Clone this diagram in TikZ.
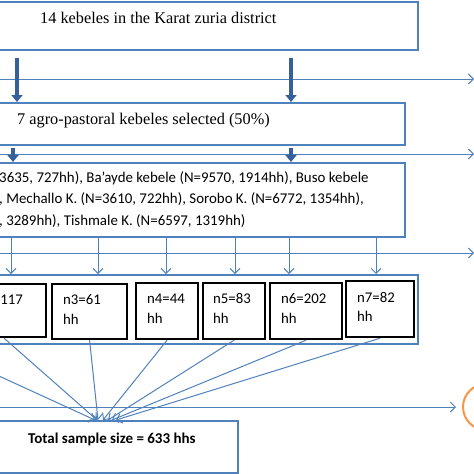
\documentclass[tikz,border=0pt]{standalone}
\usepackage{fontspec}
\setmainfont{Liberation Serif}
\newfontfamily\calfont{Carlito}
\usetikzlibrary{arrows.meta}
\definecolor{bb}{HTML}{4F81BD}
\definecolor{db}{HTML}{35609A}
\definecolor{og}{HTML}{F79646}
\begin{document}
\begin{tikzpicture}[x=1pt,y=-1pt,
  box/.style={draw=bb, line width=2.2pt, rectangle, inner sep=0pt, anchor=north west},
  ibox/.style={draw=black, line width=2.2pt, rectangle, inner sep=0pt, anchor=north west},
  bigarrow/.style={draw=db, line width=4.5pt, -{Triangle[width=11pt,length=7pt]}},
  thinarrow/.style={draw=bb, line width=1pt, -{Straight Barb[length=5pt,width=10pt]}},
  serif/.style={anchor=base west, inner sep=0pt, font=\fontsize{16.3}{19}\selectfont},
  sans/.style={anchor=base west, inner sep=0pt, font=\calfont\fontsize{14.9}{18}\selectfont},
  itext/.style={anchor=base west, inner sep=0pt, font=\calfont\fontsize{14.8}{17}\selectfont}]
\useasboundingbox (0,0) rectangle (474,474);
% boxes
\node[box, minimum width=427pt, minimum height=48pt] (b1) at (-10,1) {};
\node[box, minimum width=414pt, minimum height=42pt] (b2) at (-10,102) {};
\node[box, minimum width=414pt, minimum height=74pt] (b3) at (-10,162) {};
\node[box, minimum width=427pt, minimum height=69pt] (b0) at (-10,274) {};
\node[box, minimum width=247pt, minimum height=52pt] (b4) at (-10,420) {};
% inner boxes
\node[ibox, minimum width=84pt, minimum height=53pt] (n2) at (-39,283) {};
\node[ibox, minimum width=75pt, minimum height=55pt] (n3) at (51,283) {};
\node[ibox, minimum width=62pt, minimum height=56pt] (n4) at (135,282) {};
\node[ibox, minimum width=62pt, minimum height=56pt] (n5) at (202,282) {};
\node[ibox, minimum width=72pt, minimum height=56pt] (n6) at (269,282) {};
\node[ibox, minimum width=68pt, minimum height=56pt] (n7) at (345,280) {};
% texts
\node[serif] (t1) at (40,23) {14 kebeles in the Karat zuria district};
\node[serif] (t2) at (17,124) {7 agro-pastoral kebeles selected (50\%)};
\node[sans] (t3a) at (-1,182) {3635, 727hh), Ba’ayde kebele (N=9570, 1914hh), Buso kebele};
\node[sans] (t3b) at (-1,203) {, Mechallo K. (N=3610, 722hh), Sorobo K. (N=6772, 1354hh),};
\node[sans] (t3c) at (-1,225) {, 3289hh), Tishmale K. (N=6597, 1319hh)};
\node[itext, anchor=base east] (s2) at (23,304) {117};
\node[itext] (s3a) at (63,304) {n3=61};
\node[itext] (s3b) at (63,324) {hh};
\node[itext] (s4a) at (147,303) {n4=44};
\node[itext] (s4b) at (147,323) {hh};
\node[itext] (s5a) at (213,303) {n5=83};
\node[itext] (s5b) at (213,323) {hh};
\node[itext] (s6a) at (281,303) {n6=202};
\node[itext] (s6b) at (281,323) {hh};
\node[itext] (s7a) at (357,302) {n7=82};
\node[itext] (s7b) at (357,321) {hh};
\node[anchor=base west, inner sep=0pt, font=\calfont\bfseries\fontsize{15}{18}\selectfont] (t4) at (28,443) {Total sample size = 633 hhs};
% orange circle
\node[draw=og, line width=2pt, circle, minimum size=46pt, inner sep=0pt] (oc) at (486,407) {};
% horizontal flow lines
\coordinate (h1a) at (-5,79);  \coordinate (h1b) at (474,79);
\coordinate (h2a) at (-5,154); \coordinate (h2b) at (474,154);
\coordinate (h3a) at (-5,253); \coordinate (h3b) at (474,253);
\coordinate (h4a) at (-5,407);
\draw[thinarrow] (h1a) -- (h1b);
\draw[thinarrow] (h2a) -- (h2b);
\draw[thinarrow] (h3a) -- (h3b);
\draw[thinarrow] (h4a) -- ([xshift=-6pt]oc.west);
% thick arrows
\coordinate (xa) at (17,0); \coordinate (xb) at (291,0); \coordinate (xc) at (13,0);
\draw[bigarrow] ([yshift=-7pt]b1.south -| xa) -- (b2.north -| xa);
\draw[bigarrow] ([yshift=-7pt]b1.south -| xb) -- (b2.north -| xb);
\draw[bigarrow] ([yshift=-2pt]b2.south -| xc) -- (b3.north -| xc);
\draw[bigarrow] ([yshift=-2pt]b2.south -| xb) -- (b3.north -| xb);
% thin arrows from b3 to b0
\foreach \x [count=\i] in {11,98,166,235,289,376} {
  \coordinate (v\i) at (\x,0);
  \draw[thinarrow] (b3.south -| v\i) -- (b0.north -| v\i);
}
% converging arrows
\coordinate (c1) at (-84,338);
\coordinate (e1) at (95,420);
\coordinate (e2) at (97,420);
\coordinate (e3) at (98,420);
\coordinate (e4) at (103,420);
\coordinate (e5) at (108,420);
\coordinate (e6) at (112,420);
\coordinate (e7) at (116,420);
\draw[thinarrow] (c1) -- (e1);
\draw[thinarrow] (n2.south) -- (e2);
\draw[thinarrow] (n3.south) -- (e3);
\draw[thinarrow] (n4.south) -- (e4);
\draw[thinarrow] (n5.south) -- (e5);
\draw[thinarrow] (n6.south) -- (e6);
\draw[thinarrow] (n7.south) -- (e7);
\end{tikzpicture}
\end{document}
